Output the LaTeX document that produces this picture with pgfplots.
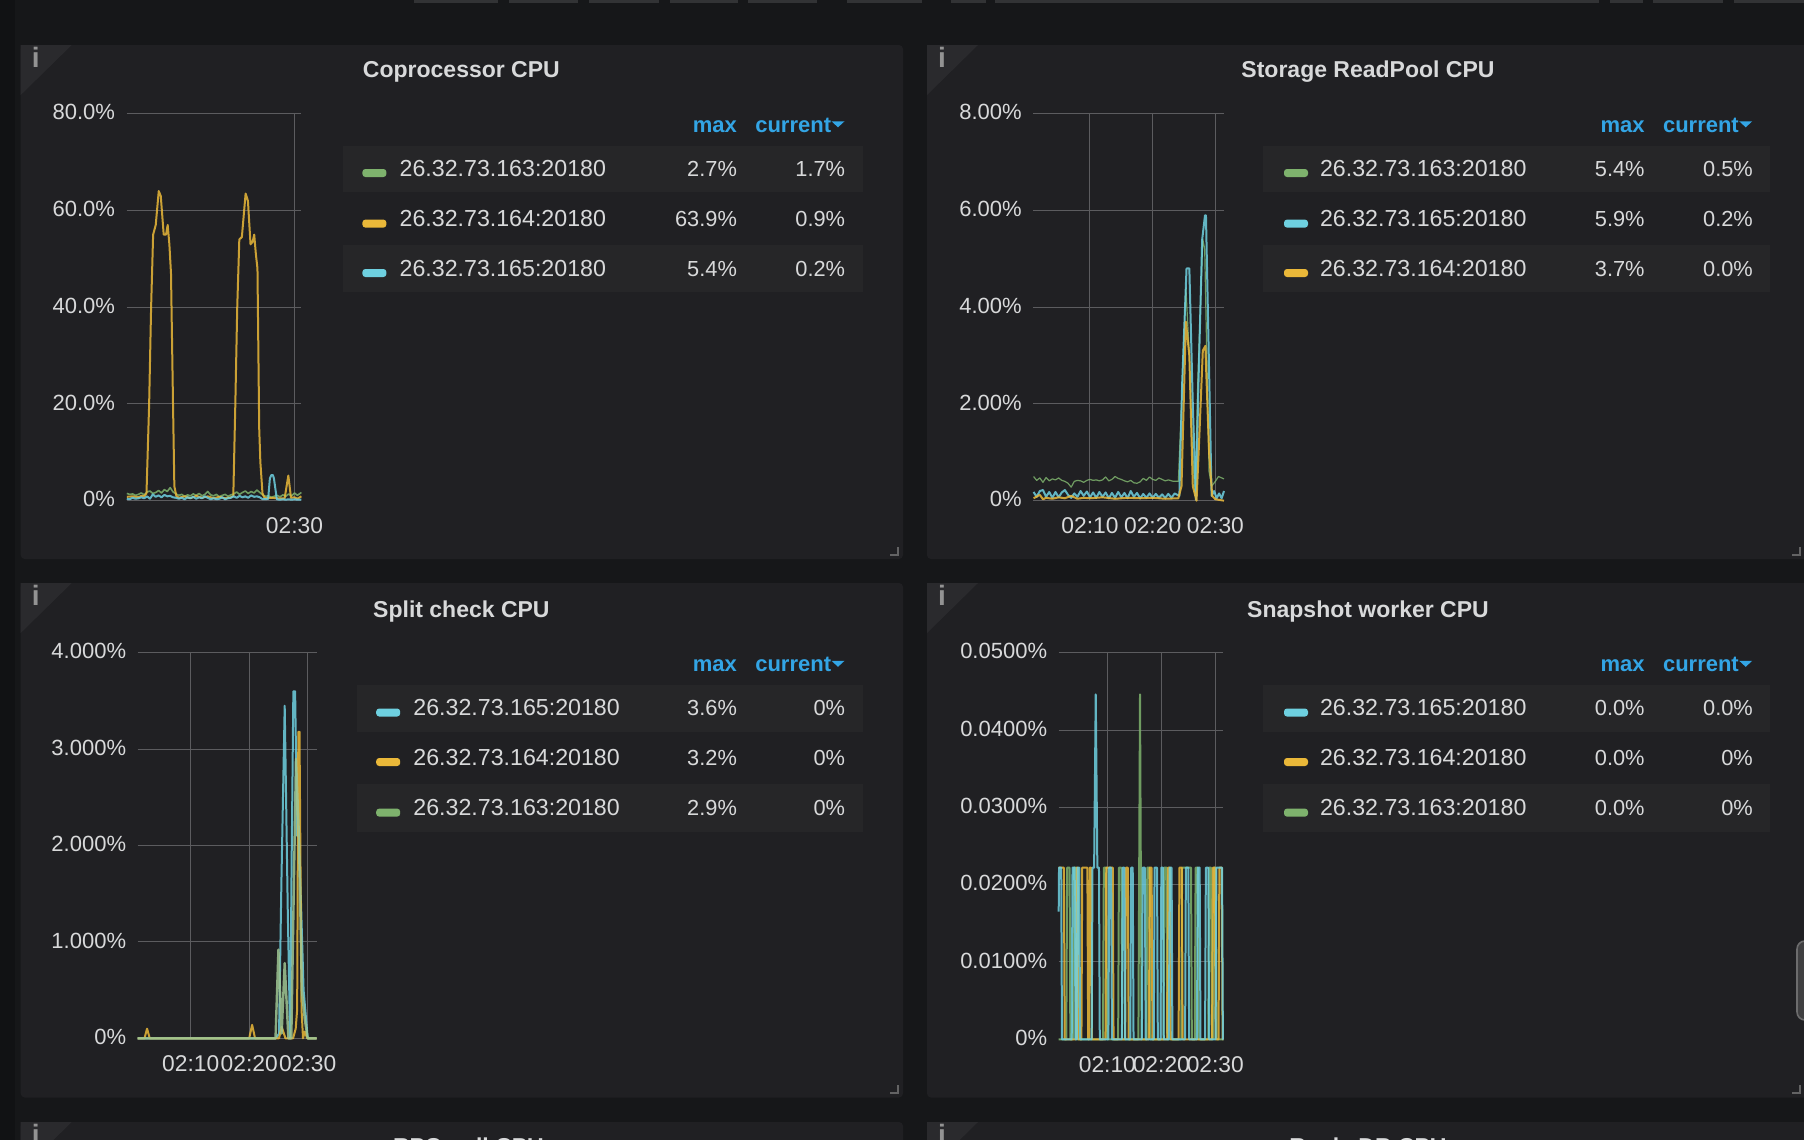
\documentclass[border=0pt]{standalone}
\usepackage{fontspec}
\setmainfont{Liberation Sans}
\usepackage{pgfplots}
\pgfplotsset{compat=1.18}

\definecolor{pagebg}{HTML}{161719}
\definecolor{leftbg}{HTML}{111214}
\definecolor{panelbg}{HTML}{202023}
\definecolor{rowbg}{HTML}{262628}
\definecolor{cornerbg}{HTML}{2A2A2D}
\definecolor{txt}{HTML}{D8D9DA}
\definecolor{hdr}{HTML}{33A5E5}
\definecolor{gridc}{HTML}{5C5C5F}
\definecolor{sgreen}{HTML}{7EB26D}
\definecolor{syellow}{HTML}{EAB839}
\definecolor{scyan}{HTML}{6ED0E0}

\newcommand{\tf}{\fontsize{11}{13}\selectfont}
\newcommand{\xf}{\fontsize{11.4}{13}\selectfont}
\newcommand{\lf}{\fontsize{11.6}{13}\selectfont}
\newcommand{\vf}{\fontsize{10.9}{13}\selectfont}
\newcommand{\hf}{\fontsize{11}{13}\selectfont}
\newcommand{\ttlf}{\fontsize{11.5}{14}\selectfont}

\pgfplotsset{
  panel/.style={
    scale only axis, anchor=north west, clip=false,
    axis line style={draw=none}, major tick length=0pt, tick style={draw=none},
    scaled y ticks=false,
    grid=major, grid style={gridc, line width=0.5pt},
    tick label style={text=txt},
    yticklabel style={font=\tf, inner sep=0pt, xshift=-5.6pt, yshift=0.7pt},
    xticklabel style={font=\xf, anchor=center, inner sep=0pt, yshift=-12.7pt},
    axis on top=false
  },
  sg/.style={sgreen, line width=1pt, opacity=0.85, line join=round, no markers},
  sy/.style={syellow, line width=1pt, opacity=0.85, line join=round, no markers},
  sc/.style={scyan, line width=1pt, opacity=0.85, line join=round, no markers}
}

% panel: x0, y0, x1, y1
\newcommand{\panel}[4]{%
  \fill[panelbg, rounded corners=2pt] (#1,#2) rectangle (#3,#4);
  \fill[cornerbg] (#1,#2) -- ({#1+51},#2) -- (#1,{#2+50}) -- cycle;
  \node[anchor=base, text=gray!85!white, inner sep=0pt] at ({#1+15},{#2+22}) {\fontsize{14}{14}\selectfont\bfseries i};
}
% legend header: max right edge, current right edge, y
\newcommand{\leghead}[3]{%
  \node[anchor=base east, inner sep=0pt, text=hdr] at ({#1+1},{#3+8}) {\hf\bfseries max};
  \node[anchor=base east, inner sep=0pt, text=hdr] at ({#2-13},{#3+8}) {\hf\bfseries current};
  \fill[hdr] ({#2-13},{#3-3}) -- (#2,{#3-3}) -- ({#2-6.5},{#3+3}) -- cycle;
}
% legend row: swatch x, name x, max right, current right, y, colour, name, max, current
\newcommand{\legrow}[9]{%
  \fill[#6, rounded corners=1.5pt] (#1,{#5+1}) rectangle ({#1+24},{#5+9});
  \node[anchor=base west, inner sep=0pt, text=txt] at (#2,{#5+8}) {\lf #7};
  \node[anchor=base east, inner sep=0pt, text=txt] at ({#3+1},{#5+8}) {\vf #8};
  \node[anchor=base east, inner sep=0pt, text=txt] at ({#4+1},{#5+8}) {\vf #9};
}

\begin{document}
\begin{tikzpicture}[x=0.5pt, y=-0.5pt]
\useasboundingbox (0,0) rectangle (1804,1140);
\begin{scope}
\clip (0,0) rectangle (1804,1140);
\fill[pagebg] (0,0) rectangle (1804,1140);
\fill[leftbg] (0,0) rectangle (15,1140);

% strip of the row above
\foreach \a/\b in {414/498, 509/578, 589/659, 670/738, 748/817, 847/922, 951/986, 995/1599, 1610/1643, 1653/1723, 1734/1804}
  \fill[white!12!pagebg] (\a,0) rectangle (\b,3);

\panel{20.7}{45}{903}{559}
\panel{927}{45}{1830}{559}
\panel{20.7}{583}{903}{1097.5}
\panel{927}{583}{1830}{1097.5}
\panel{20.7}{1122}{903}{1200}
\panel{927}{1122}{1830}{1200}

% titles
\node[anchor=base, inner sep=0pt, text=txt] at (461.4,77.5) {\ttlf\bfseries Coprocessor CPU};
\node[anchor=base, inner sep=0pt, text=txt] at (1368,77.5) {\ttlf\bfseries Storage ReadPool CPU};
\node[anchor=base, inner sep=0pt, text=txt] at (461.4,617) {\ttlf\bfseries Split check CPU};
\node[anchor=base, inner sep=0pt, text=txt] at (1368,617) {\ttlf\bfseries Snapshot worker CPU};
\node[anchor=base, inner sep=0pt, text=txt] at (461.4,1154) {\ttlf\bfseries gRPC poll CPU};
\node[anchor=base, inner sep=0pt, text=txt] at (1368,1154) {\ttlf\bfseries RocksDB CPU};

% resize handles
\foreach \a/\b in {898/554, 1800/554, 898/1092, 1800/1092} {
  \fill[gray!70!panelbg] ({\a-8},\b) rectangle ({\a+1},{\b+2});
  \fill[gray!70!panelbg] ({\a-1},{\b-7}) rectangle ({\a+1},{\b+2});
}
% scroll thumb at the right edge
\filldraw[draw=gray!80!panelbg, fill=black!30!gray!55!panelbg, line width=0.8pt, rounded corners=4pt]
  (1797,941) rectangle (1815,1020);

% legend rows
\fill[rowbg] (342.8,146) rectangle (862.9,192);
\fill[rowbg] (342.8,245) rectangle (862.9,292);
\fill[rowbg] (1263.2,146) rectangle (1769.5,192);
\fill[rowbg] (1263.2,245) rectangle (1769.5,292);
\fill[rowbg] (356.7,684.6) rectangle (862.9,731.7);
\fill[rowbg] (356.7,783.5) rectangle (862.9,832);
\fill[rowbg] (1263.2,684.6) rectangle (1769.5,731.7);
\fill[rowbg] (1263.2,783.5) rectangle (1769.5,832);

\leghead{736.3}{844.5}{124.3}
\legrow{362.4}{399.2}{736.3}{844.5}{168}{sgreen}{26.32.73.163:20180}{2.7\%}{1.7\%}
\legrow{362.4}{399.2}{736.3}{844.5}{218.6}{syellow}{26.32.73.164:20180}{63.9\%}{0.9\%}
\legrow{362.4}{399.2}{736.3}{844.5}{268}{scyan}{26.32.73.165:20180}{5.4\%}{0.2\%}

\leghead{1644}{1752.2}{124.3}
\legrow{1284}{1319.6}{1644}{1752.2}{168}{sgreen}{26.32.73.163:20180}{5.4\%}{0.5\%}
\legrow{1284}{1319.6}{1644}{1752.2}{218.6}{scyan}{26.32.73.165:20180}{5.9\%}{0.2\%}
\legrow{1284}{1319.6}{1644}{1752.2}{268}{syellow}{26.32.73.164:20180}{3.7\%}{0.0\%}

\leghead{736.3}{844.5}{663.8}
\legrow{376.2}{413}{736.3}{844.5}{707.5}{scyan}{26.32.73.165:20180}{3.6\%}{0\%}
\legrow{376.2}{413}{736.3}{844.5}{757}{syellow}{26.32.73.164:20180}{3.2\%}{0\%}
\legrow{376.2}{413}{736.3}{844.5}{807.6}{sgreen}{26.32.73.163:20180}{2.9\%}{0\%}

\leghead{1644}{1752.2}{663.8}
\legrow{1284}{1319.6}{1644}{1752.2}{707.5}{scyan}{26.32.73.165:20180}{0.0\%}{0.0\%}
\legrow{1284}{1319.6}{1644}{1752.2}{757}{syellow}{26.32.73.164:20180}{0.0\%}{0\%}
\legrow{1284}{1319.6}{1644}{1752.2}{807.6}{sgreen}{26.32.73.163:20180}{0.0\%}{0\%}

% Coprocessor CPU
\begin{axis}[panel, at={(63.3pt,-56.85pt)}, width=87.4pt, height=193.5pt,
  xmin=0.96, xmax=31.2, ymin=0, ymax=80,
  xtick={30}, xticklabels={02:30},
  ytick={0,20,40,60,80}, yticklabels={0\%,20.0\%,40.0\%,60.0\%,80.0\%}]
\addplot[sg, line width=0.8pt] coordinates {(1,1.5)(1.5,1.3)(2,1.4)(2.5,1.1)(3,1.3)(3.5,1.6)(4,1.2)(4.5,1.8)(5,2.0)(5.5,1.5)(6,1.7)(6.5,2.1)(7,1.6)(7.5,2.3)(8,1.9)(8.5,2.7)(9,1.8)(9.5,1.4)(10,1.1)(10.5,1.3)(11,0.9)(11.5,1.2)(12,1.0)(12.5,1.4)(13,1.1)(13.5,1.5)(14,1.0)(14.5,1.3)(15,1.9)(15.5,1.2)(16,1.0)(16.5,1.3)(17,0.8)(17.5,1.1)(18,1.3)(18.5,0.9)(19,1.2)(19.5,1.4)(20,1.8)(20.5,1.3)(21,1.7)(21.5,2.0)(22,1.5)(22.5,1.9)(23,1.6)(23.5,2.2)(24,1.7)(24.5,1.2)(25,0.9)(25.5,1.0)(26,0.7)(26.5,0.9)(27,1.1)(27.5,0.8)(28,1.2)(28.5,0.9)(29,1.4)(29.5,1.0)(30,1.6)(30.5,1.1)(31.2,1.7)};
\addplot[sy] coordinates {(1,0.8)(2,0.9)(3,0.7)(3.5,1.0)(4,0.9)(4.4,1.5)(4.86,20)(5.2,40)(5.55,55)(6,57)(6.52,64)(6.87,63)(7.38,55)(7.78,55)(8.07,57)(8.36,53)(8.64,47)(8.99,20)(9.22,3)(9.56,1)(10,0.6)(11,0.9)(12,0.5)(13,1.0)(14,0.6)(15,0.9)(16,0.5)(17,0.8)(18,0.5)(19,0.7)(19.42,1)(19.77,20)(20.1,40)(20.46,54)(20.9,54.5)(21.55,63.5)(21.95,62)(22.4,53)(22.75,53.5)(23.04,55)(23.32,51)(23.6,48)(23.9,15)(24.1,8)(24.47,1.5)(24.87,0.5)(26,0.6)(27,0.5)(28.3,0.5)(28.94,5.2)(29.4,0.6)(30,0.7)(30.5,0.4)(31.2,0.9)};
\addplot[sc] coordinates {(1,0.4)(1.5,0.3)(2,0.6)(2.5,0.4)(3,0.5)(3.5,0.7)(4,0.5)(4.5,0.9)(5,0.4)(5.5,1.3)(6,0.8)(6.5,1.1)(7,0.7)(7.5,1.2)(8,0.9)(8.5,1.0)(9,0.7)(9.5,0.6)(10,0.4)(10.5,0.6)(11,0.3)(11.5,0.7)(12,0.5)(12.5,0.8)(13,0.4)(13.5,0.7)(14,0.5)(14.5,0.9)(15,0.6)(15.5,0.3)(16,0.5)(16.5,0.3)(17,0.4)(17.5,0.7)(18,0.3)(18.5,0.5)(19,0.6)(19.5,0.9)(20,0.6)(20.5,1.0)(21,0.7)(21.5,0.9)(22,0.6)(22.5,1.1)(23,0.8)(23.5,0.9)(24,0.7)(24.5,0.3)(25,0.3)(25.45,0.4)(25.75,4.6)(26.0,5.3)(26.26,5.3)(26.45,4.6)(26.95,0.3)(27.5,0.2)(28,0.3)(28.5,0.2)(29,0.3)(29.5,0.2)(30,0.3)(30.5,0.2)(31.2,0.2)};
\end{axis}

% Storage ReadPool CPU
\begin{axis}[panel, at={(516.65pt,-56.85pt)}, width=95.35pt, height=193.5pt,
  xmin=0.96, xmax=31.38, ymin=0, ymax=8,
  xtick={10,20,30}, xticklabels={02:10,02:20,02:30},
  ytick={0,2,4,6,8}, yticklabels={0\%,2.00\%,4.00\%,6.00\%,8.00\%}]
\addplot[sg, line width=0.6pt] coordinates {(1,0.5)(1.5,0.42)(2,0.47)(2.5,0.38)(3,0.48)(3.5,0.41)(4,0.45)(4.5,0.43)(5,0.47)(5.5,0.42)(6,0.4)(6.5,0.36)(7,0.28)(7.5,0.4)(8,0.42)(8.5,0.41)(9,0.38)(9.5,0.42)(10,0.44)(10.5,0.42)(11,0.43)(11.5,0.41)(12,0.43)(12.5,0.49)(13,0.41)(13.5,0.44)(14,0.5)(14.5,0.46)(15,0.44)(15.5,0.41)(16,0.39)(16.5,0.42)(17,0.37)(17.5,0.36)(18,0.39)(18.5,0.46)(19,0.42)(19.5,0.49)(20,0.44)(20.5,0.42)(21,0.47)(21.5,0.44)(22,0.41)(22.5,0.43)(23.3,0.4)(24.1,0.4)(24.6,2.0)(25.3,4.4)(25.85,3.0)(26.3,1.2)(26.76,0.1)(27.2,2.5)(28,5.4)(28.3,5.2)(29,0.6)(29.4,0.3)(30,0.4)(30.5,0.5)(31.38,0.45)};
\addplot[sc] coordinates {(1,0.18)(1.5,0.08)(2,0.2)(2.5,0.22)(3,0.08)(3.5,0.18)(4,0.06)(4.5,0.18)(5,0.07)(5.5,0.17)(6,0.22)(6.5,0.12)(7,0.06)(7.5,0.15)(8,0.08)(8.5,0.2)(9,0.1)(9.5,0.19)(10,0.07)(10.5,0.17)(11,0.06)(11.5,0.18)(12,0.08)(12.5,0.17)(13,0.05)(13.5,0.16)(14,0.06)(14.5,0.18)(15,0.07)(15.5,0.16)(16,0.05)(16.5,0.2)(17,0.08)(17.5,0.16)(18,0.05)(18.5,0.14)(19,0.06)(19.5,0.15)(20,0.06)(20.5,0.14)(21,0.06)(21.5,0.13)(22,0.06)(22.5,0.14)(23,0.06)(23.5,0.15)(24.26,0.1)(24.7,2.4)(25.4,4.8)(25.85,4.8)(26.4,2.0)(26.9,0.02)(27.3,2.4)(27.9,5.4)(28.35,5.9)(28.5,5.9)(29.4,0.1)(29.8,0.2)(30.2,0.05)(30.6,0.15)(31,0.05)(31.38,0.2)};
\addplot[sy] coordinates {(1,0.05)(2,0.12)(2.5,0.03)(3,0.06)(4,0.04)(5,0.07)(6,0.05)(7,0.1)(8,0.04)(9,0.06)(10,0.05)(12,0.07)(14,0.04)(16,0.06)(18,0.05)(20,0.06)(22,0.04)(24.1,0.05)(24.6,0.3)(25.3,3.7)(25.85,3.0)(26.4,0.3)(27,0)(27.4,1.2)(28,3.1)(28.4,3.2)(29,1.0)(29.5,0.1)(30,0.03)(31.38,0)};
\end{axis}

% Split check CPU
\begin{axis}[panel, at={(68.85pt,-326.35pt)}, width=89.5pt, height=192.8pt,
  xmin=0.94, xmax=31.54, ymin=0, ymax=4,
  xtick={10,20,30}, xticklabels={02:10,02:20,02:30},
  ytick={0,1,2,3,4}, yticklabels={0\%,1.000\%,2.000\%,3.000\%,4.000\%}]
\addplot[sc] coordinates {(0.94,0)(24.6,0)(25.1,0.05)(25.5,1.6)(26.07,3.45)(26.6,1.3)(27,0)(27.25,1.8)(27.55,3.6)(27.85,3.6)(28.2,2.1)(28.46,2.2)(29.3,0.5)(30,0)(31.54,0)};
\addplot[sy] coordinates {(0.94,0)(2.1,0)(2.54,0.1)(3,0)(20,0)(20.5,0.14)(21,0)(25.1,0)(25.55,0.12)(26.2,0)(27.5,0)(27.95,0.1)(28.2,0.3)(28.4,3.18)(28.6,3.18)(28.95,0.3)(29.2,0)(29.5,0.07)(29.9,0)(31.54,0)};
\addplot[sg, line width=1.2pt, sgreen!75!white] coordinates {(0.94,0)(24.5,0)(25,0.92)(25.55,0.05)(26.07,0.78)(26.7,0)(27.2,0)(28,2.9)(28.5,2.1)(29,0.5)(29.5,0.2)(30,0)(31.54,0)};
\end{axis}

% Snapshot worker CPU
\begin{axis}[panel, at={(529.35pt,-326.35pt)}, width=82.3pt, height=193.3pt,
  xmin=0.99, xmax=31.48, ymin=0, ymax=0.05,
  xtick={10,20,30}, xticklabels={02:10,02:20,02:30},
  ytick={0,0.01,0.02,0.03,0.04,0.05}, yticklabels={0\%,0.0100\%,0.0200\%,0.0300\%,0.0400\%,0.0500\%}]
\addplot[sg] coordinates {(0.99,0)(2.4,0)(2.55,.0222)(3,.0222)(3.15,0)(3.65,0)(3.8,.0222)(4.2,.0222)(4.35,0)(9.2,0)(9.35,.0222)(9.8,.0222)(9.95,0)(12,0)(12.15,.0222)(12.6,.0222)(12.75,0)(15.75,0)(16.05,.0446)(16.35,0)(17.25,0)(17.4,.0222)(17.8,.0222)(17.95,0)(20.4,0)(20.55,.0222)(20.95,.0222)(21.1,0)(23.7,0)(23.85,.0222)(25.5,.0222)(25.65,0)(26.2,0)(26.35,.0222)(26.75,.0222)(26.9,0)(28.7,0)(28.85,.0222)(29.2,.0222)(29.35,0)(29.6,0)(29.75,.0222)(30.1,.0222)(30.25,0)(31.48,0)};
\addplot[sy] coordinates {(0.99,.0222)(1.95,.0222)(2.1,0)(4.15,0)(4.3,.0222)(4.5,.0222)(4.65,0)(5.2,0)(5.35,.0222)(6.3,.0222)(6.45,0)(6.6,0)(6.75,.0222)(7,.0222)(7.15,0)(9.65,0)(9.8,.0222)(11,.0222)(11.15,0)(13.3,0)(13.45,.0222)(13.8,.0222)(13.95,0)(17.7,0)(17.85,.0222)(18.2,.0222)(18.35,0)(21.1,0)(21.25,.0222)(21.6,.0222)(21.75,0)(23.2,0)(23.35,.0222)(23.8,.0222)(23.95,0)(29.4,0)(29.55,.0222)(29.9,.0222)(30.05,0)(30.6,0)(30.75,.0222)(31.2,.0222)(31.35,0)(31.48,0)};
\addplot[sc] coordinates {(0.99,.0165)(1.05,.0222)(1.45,.0222)(1.6,0)(3.4,0)(3.55,.0222)(3.95,.0222)(4.1,0)(4.35,0)(4.5,.0222)(4.8,.0222)(4.95,0)(7.1,0)(7.25,.0222)(7.55,.0222)(7.85,.0446)(8.15,.0222)(8.45,.0222)(8.6,0)(10.2,0)(10.35,.0222)(10.7,.0222)(10.85,0)(12.7,0)(12.85,.0222)(13.15,.0222)(13.3,0)(14.25,0)(14.4,.0222)(14.7,.0222)(14.85,0)(16.4,0)(16.55,.0222)(16.95,.0222)(17.1,0)(18.6,0)(18.75,.0222)(19.2,.0222)(19.35,0)(19.85,0)(20,.0222)(20.3,.0222)(20.45,0)(21.4,0)(21.55,.0222)(21.9,.0222)(22.05,0)(24.4,0)(24.55,.0222)(25,.0222)(25.15,0)(26.6,0)(26.75,.0222)(27.1,.0222)(27.25,0)(28.1,0)(28.25,.0222)(28.7,.0222)(28.85,0)(30.05,0)(30.2,.0222)(31.25,.0222)(31.4,0)(31.48,0)};
\end{axis}
\end{scope}
\end{tikzpicture}
\end{document}
